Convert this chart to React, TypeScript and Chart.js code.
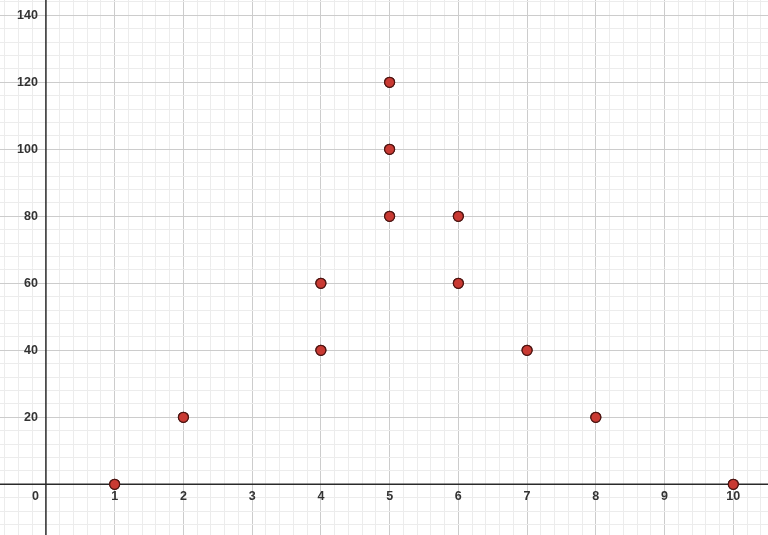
import React, { useEffect, useRef } from "react";
import { Chart, registerables } from "chart.js";

Chart.register(...registerables);

const xValues = [1, 2, 4, 4, 5, 5, 5, 6, 6, 7, 8, 10];
const yValues = [0, 20, 40, 60, 80, 100, 120, 60, 80, 40, 20, 0];
const xTickLabels = [1, 2, 3, 4, 5, 6, 7, 8, 9, 10];
const yTickLabels = [20, 40, 60, 80, 100, 120, 140];

const X_MIN = -0.668;
const X_MAX = 10.505;
const Y_MIN = -15.13;
const Y_MAX = 144.57;

function gridTicks(min: number, max: number, step: number, sub: number) {
  const out: { value: number }[] = [];
  const minor = step / sub;
  const start = Math.ceil(min / minor);
  const end = Math.floor(max / minor);
  for (let i = start; i <= end; i++) out.push({ value: Math.round(i * minor * 1000) / 1000 });
  return out;
}

function gridColor(step: number) {
  return (ctx: any) => {
    const v = ctx.tick ? ctx.tick.value : 0;
    if (Math.abs(v) < 1e-9) return "rgba(0,0,0,0)";
    const r = v / step;
    if (Math.abs(r - Math.round(r)) < 1e-6) return "#cccccc";
    return "#ececec";
  };
}

const labelsPlugin = {
  id: "desmosLabels",
  afterDraw(chart: any) {
    const ctx = chart.ctx;
    const xs = chart.scales.x;
    const ys = chart.scales.y;
    const x0 = xs.getPixelForValue(0);
    const y0 = ys.getPixelForValue(0);
    ctx.save();
    ctx.strokeStyle = "#2a2a2a";
    ctx.lineWidth = 1.5;
    ctx.beginPath();
    ctx.moveTo(x0, 0);
    ctx.lineTo(x0, chart.height);
    ctx.moveTo(0, y0);
    ctx.lineTo(chart.width, y0);
    ctx.stroke();
    ctx.fillStyle = "#333333";
    ctx.font = "bold 12.5px 'Liberation Sans', Arial, sans-serif";
    ctx.textAlign = "center";
    ctx.textBaseline = "middle";
    xTickLabels.forEach((v) => {
      ctx.fillText(String(v), xs.getPixelForValue(v), y0 + 12);
    });
    ctx.textAlign = "right";
    yTickLabels.forEach((v) => {
      ctx.fillText(String(v), x0 - 8, ys.getPixelForValue(v));
    });
    ctx.fillText("0", x0 - 7, y0 + 12);
    ctx.restore();
  },
};

const pointsOnTop = {
  id: "pointsOnTop",
  afterDraw(chart: any) {
    const meta = chart.getDatasetMeta(0);
    meta.data.forEach((el: any) => el.draw(chart.ctx, chart.chartArea));
  },
};

export default function App() {
  const ref = useRef<HTMLCanvasElement | null>(null);
  useEffect(() => {
    document.body.style.margin = "0";
    const canvas = ref.current!;
    const data = xValues.map((x, i) => ({ x, y: yValues[i] }));
    const chart = new Chart(canvas, {
      type: "scatter",
      data: {
        datasets: [
          {
            data,
            backgroundColor: "#c93a33",
            borderColor: "#4d1512",
            borderWidth: 1.2,
            pointRadius: 5,
            clip: false,
          },
        ],
      },
      options: {
        animation: false,
        responsive: false,
        maintainAspectRatio: false,
        layout: { padding: 0, autoPadding: false },
        plugins: { legend: { display: false }, tooltip: { enabled: false } },
        scales: {
          x: {
            type: "linear",
            min: X_MIN,
            max: X_MAX,
            afterBuildTicks: (s: any) => {
              s.ticks = gridTicks(X_MIN, X_MAX, 1, 5);
            },
            ticks: { display: false },
            border: { display: false },
            grid: { color: gridColor(1), lineWidth: 1, drawTicks: false },
          },
          y: {
            type: "linear",
            min: Y_MIN,
            max: Y_MAX,
            afterBuildTicks: (s: any) => {
              s.ticks = gridTicks(Y_MIN, Y_MAX, 20, 5);
            },
            ticks: { display: false },
            border: { display: false },
            grid: { color: gridColor(20), lineWidth: 1, drawTicks: false },
          },
        },
      },
      plugins: [labelsPlugin, pointsOnTop],
    });
    return () => chart.destroy();
  }, []);
  return (
    <div style={{ width: 768, height: 535, background: "#ffffff" }}>
      <canvas ref={ref} width={768} height={535} style={{ display: "block", width: 768, height: 535 }} />
    </div>
  );
}
